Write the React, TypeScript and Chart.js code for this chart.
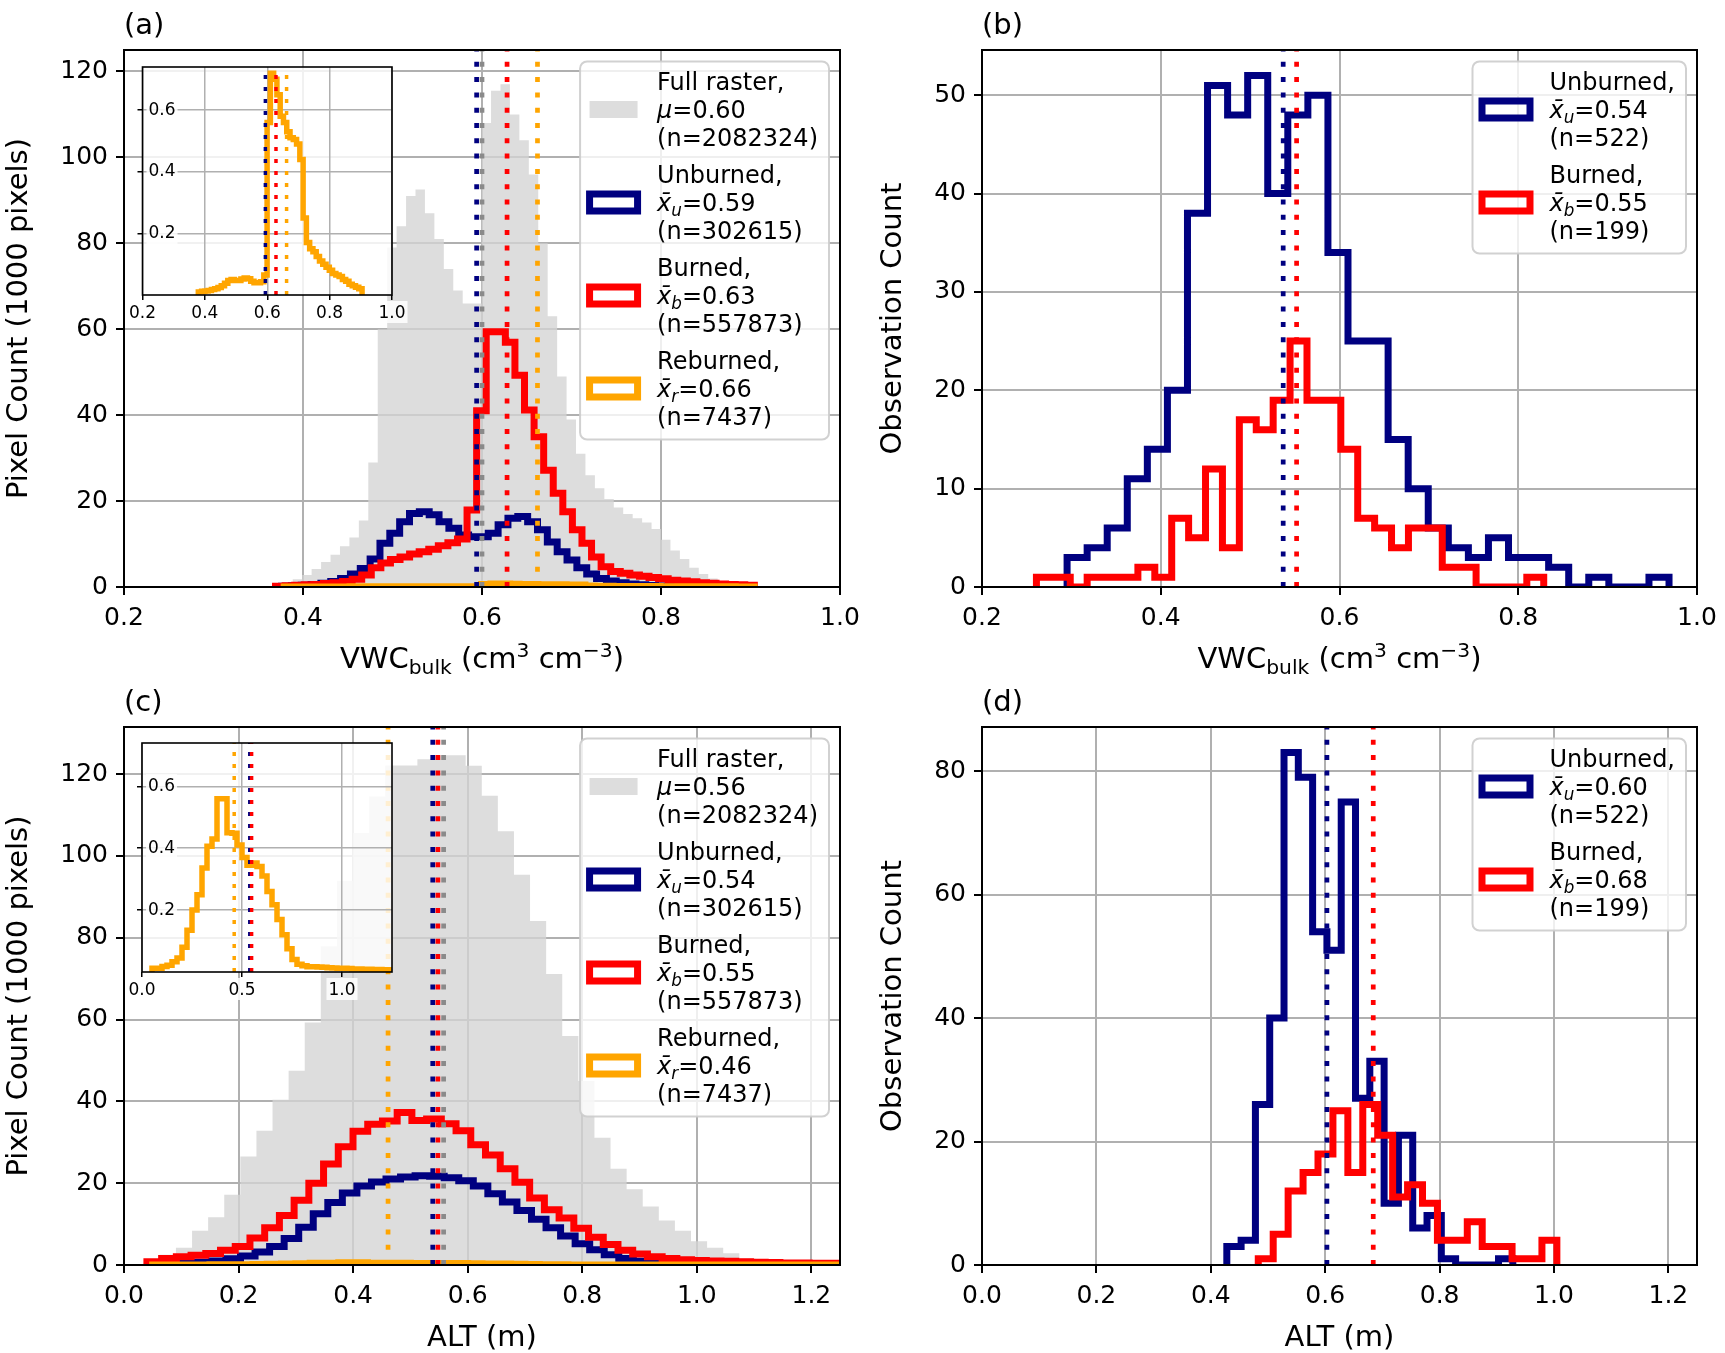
import React, { useEffect, useRef } from "react";
import { Chart, registerables } from "chart.js";

Chart.register(...registerables);

const FIG_W = 1725;
const FIG_H = 1353;
const FONT = '"DejaVu Sans", "Liberation Sans", Arial, sans-serif';
Chart.defaults.font.family = FONT;

const NAVY = "#000080";
const RED = "#ff0000";
const ORANGE = "#ffa500";
const GRAY_FILL = "rgba(211,211,211,0.78)";
const GRAY_MEAN = "#8a8a8a";
const GRID = "#b0b0b0";
const SERIES_COLORS = [GRAY_FILL, NAVY, RED, ORANGE];

// ================= DATA =================
// (a) VWC_bulk pixel histograms, thousands of pixels per bin
const vwcFullStart = 0.378;
const vwcFullWidth = 0.01055;
const vwcFull = [1.0, 1.8, 2.8, 4.2, 5.8, 7.5, 9.5, 11.5, 15.5, 29, 60, 79, 84, 91, 92.5, 87, 81, 74, 69, 66, 66, 108, 115.5, 117, 110, 104, 96, 80, 63, 49, 39, 31, 26, 23, 20.5, 18.5, 17, 16, 15, 13.5, 11, 8.5, 6.5, 4.5, 3, 2, 1.4, 1, 0.6];

const vwcUnburnedStart = 0.376;
const vwcUnburnedWidth = 0.011;
const vwcUnburned = [0.2, 0.3, 0.4, 0.6, 0.9, 1.3, 2.0, 3.0, 4.3, 6.5, 10.2, 12.5, 15.2, 17.1, 17.5, 16.8, 15.2, 13.7, 12.1, 11.7, 11.7, 12.5, 14.5, 16.0, 16.4, 15.2, 13.3, 10.5, 8.2, 6.3, 4.5, 3.0, 2.0, 1.4, 1.0, 0.7, 0.5, 0.35, 0.25, 0.15, 0.1];

const vwcBurnedStart = 0.3693;
const vwcBurnedWidth = 0.0107;
const vwcBurned = [0.2, 0.3, 0.4, 0.5, 0.6, 0.8, 1.0, 1.3, 1.8, 2.8, 4.5, 5.6, 6.4, 7.0, 7.7, 8.2, 8.8, 9.6, 10.3, 11.2, 17.9, 41, 59.4, 59.4, 57, 49.3, 41.2, 35, 27.2, 21.8, 17.5, 13.3, 10.2, 7, 4.7, 3.6, 3.2, 2.8, 2.5, 2.2, 1.9, 1.6, 1.4, 1.2, 1.0, 0.9, 0.7, 0.6, 0.5, 0.4];

const vwcReburnedStart = 0.379;
const vwcReburnedWidth = 0.0105;
const vwcReburned = [0.01, 0.012, 0.013, 0.015, 0.018, 0.02, 0.024, 0.03, 0.038, 0.047, 0.05, 0.047, 0.047, 0.052, 0.055, 0.053, 0.045, 0.04, 0.04, 0.043, 0.065, 0.56, 0.72, 0.7, 0.65, 0.58, 0.56, 0.53, 0.51, 0.505, 0.49, 0.44, 0.25, 0.17, 0.15, 0.14, 0.125, 0.11, 0.1, 0.09, 0.08, 0.07, 0.065, 0.06, 0.05, 0.045, 0.035, 0.03, 0.025, 0.02];

// means: full raster, unburned, burned, reburned
const vwcMeans = [0.6, 0.594, 0.628, 0.662];

// (b) VWC_bulk observation counts
const obsVwcUnburnedStart = 0.2952;
const obsVwcUnburnedWidth = 0.02245;
const obsVwcUnburned = [3, 4, 6, 11, 14, 20, 38, 51, 48, 52, 40, 48, 50, 34, 25, 25, 15, 10, 6, 4, 3, 5, 3, 3, 2, 0, 1, 0, 0, 1];
const obsVwcBurnedStart = 0.2609;
const obsVwcBurnedWidth = 0.01892;
const obsVwcBurned = [1, 1, 0, 1, 1, 1, 2, 1, 7, 5, 12, 4, 17, 16, 19, 25, 19, 19, 14, 7, 6, 4, 6, 6, 2, 2, 0, 0, 0, 1];
const obsVwcMeans = [0.537, 0.552];

// (c) ALT pixel histograms, thousands of pixels per bin
const altFullStart = 0.0345;
const altFullWidth = 0.0281;
const altFull = [0.4, 2.5, 4.2, 8.4, 11.7, 17.2, 26.5, 32.8, 40.4, 47.5, 59.3, 77.9, 93.9, 105.6, 114.5, 122.1, 122.1, 123.6, 124.6, 124.6, 122, 114.7, 106, 95.4, 84.1, 71.1, 56, 45, 31.1, 23.5, 18.5, 14.3, 10.9, 8.4, 5.8, 4.2, 2.9, 1.6, 1.2, 1.0, 0.8, 0.6, 0.5, 0.4, 0.3, 0.3];

const altUnburnedStart = 0.051;
const altUnburnedWidth = 0.0254;
const altUnburned = [0.3, 0.4, 0.5, 0.7, 1.0, 1.5, 2.2, 3.2, 4.5, 6.5, 9.2, 12.5, 15.3, 17.6, 19.3, 20.3, 21.0, 21.5, 21.8, 21.7, 21.3, 20.6, 19.3, 17.4, 15.4, 13.3, 11.2, 9.1, 7.1, 5.2, 3.7, 2.5, 1.6, 0.9, 0.5, 0.3, 0.2];

const altBurnedStart = 0.04;
const altBurnedWidth = 0.0257;
const altBurned = [0.8, 1.6, 2.0, 2.4, 2.8, 3.6, 4.5, 6.6, 9.1, 12.1, 15.8, 20.0, 24.7, 28.9, 32.7, 34.4, 35.2, 37.3, 35.3, 35.7, 34.5, 32.8, 29.4, 26.9, 23.5, 20.2, 16.4, 13.5, 11.5, 9.0, 6.8, 5.0, 3.6, 2.7, 2.0, 1.6, 1.3, 1.1, 1.0, 0.9, 0.8, 0.7, 0.6, 0.5, 0.5, 0.4, 0.4, 0.4];

const altReburnedStart = 0.05;
const altReburnedWidth = 0.025;
const altReburned = [0.012, 0.012, 0.018, 0.022, 0.033, 0.045, 0.08, 0.135, 0.2, 0.25, 0.336, 0.406, 0.43, 0.56, 0.56, 0.45, 0.448, 0.41, 0.37, 0.345, 0.352, 0.341, 0.31, 0.26, 0.217, 0.17, 0.12, 0.075, 0.04, 0.025, 0.02, 0.017, 0.017, 0.016, 0.015, 0.014, 0.013, 0.012, 0.012, 0.011, 0.01, 0.01, 0.009, 0.009, 0.008, 0.008, 0.007, 0.007];

const altMeans = [0.558, 0.539, 0.548, 0.461];

// (d) ALT observation counts
const obsAltUnburnedStart = 0.428;
const obsAltUnburnedWidth = 0.025;
const obsAltUnburned = [3, 4, 26, 40, 83, 79, 54, 51, 75, 27, 33, 10, 21, 6, 8, 1, 0, 0, 0, 1];
const obsAltBurnedStart = 0.483;
const obsAltBurnedWidth = 0.0261;
const obsAltBurned = [1, 5, 12, 15, 18, 25, 15, 26, 21, 11, 13, 10, 4, 4, 7, 3, 3, 1, 1, 4];
const obsAltMeans = [0.603, 0.684];

const pixelCounts = [2082324, 302615, 557873, 7437];
const obsCounts = [522, 199];
const seriesNames = ["Full raster,", "Unburned,", "Burned,", "Reburned,"];
const seriesSubscripts = ["", "u", "b", "r"];

// tick values
const vwcTicks = [0.2, 0.4, 0.6, 0.8, 1.0];
const altTicks = [0, 0.2, 0.4, 0.6, 0.8, 1.0, 1.2];
const altInsetTicks = [0, 0.5, 1.0];
const pixelTicks = [0, 20, 40, 60, 80, 100, 120];
const obsTicksB = [0, 10, 20, 30, 40, 50];
const obsTicksD = [0, 20, 40, 60, 80];
const insetYTicks = [0.2, 0.4, 0.6];

// ================= LAYOUT =================
type Area = { l: number; t: number; r: number; b: number };
const areaA: Area = { l: 124, t: 50, r: 840, b: 587 };
const areaB: Area = { l: 982, t: 50, r: 1697, b: 587 };
const areaC: Area = { l: 124, t: 727, r: 840, b: 1265 };
const areaD: Area = { l: 982, t: 727, r: 1697, b: 1265 };
const insetA: Area = { l: 142.5, t: 67, r: 392, b: 295 };
const insetC: Area = { l: 142, t: 743, r: 392, b: 972 };

const TICK_FS = 25;
const LABEL_FS = 29;
const LEGEND_FS = 24;
const INSET_FS = 17;

type Part = { t: string; s?: number; it?: boolean; dy?: number };

function partFont(p: Part, size: number) {
  return `${p.it ? "italic " : ""}${(size * (p.s ?? 1)).toFixed(2)}px ${FONT}`;
}
function richWidth(ctx: any, parts: Part[], size: number) {
  let w = 0;
  for (const p of parts) {
    ctx.font = partFont(p, size);
    w += ctx.measureText(p.t).width;
  }
  return w;
}
function drawRich(ctx: any, x: number, baseline: number, parts: Part[], size: number, align: string) {
  const w = richWidth(ctx, parts, size);
  let cx = align === "center" ? x - w / 2 : x;
  ctx.textAlign = "left";
  ctx.textBaseline = "alphabetic";
  ctx.fillStyle = "#000";
  for (const p of parts) {
    ctx.font = partFont(p, size);
    ctx.fillText(p.t, cx, baseline + (p.dy ?? 0) * size);
    cx += ctx.measureText(p.t).width;
  }
}

function meanParts(si: number, mean: number): Part[] {
  const txt = "=" + mean.toFixed(2);
  if (si === 0) return [{ t: "\u03bc", it: true }, { t: txt }];
  return [{ t: "x\u0304", it: true }, { t: seriesSubscripts[si], it: true, s: 0.7, dy: 0.2 }, { t: txt }];
}

function roundRectPath(ctx: any, x: number, y: number, w: number, h: number, r: number) {
  ctx.beginPath();
  ctx.moveTo(x + r, y);
  ctx.arcTo(x + w, y, x + w, y + h, r);
  ctx.arcTo(x + w, y + h, x, y + h, r);
  ctx.arcTo(x, y + h, x, y, r);
  ctx.arcTo(x, y, x + w, y, r);
  ctx.closePath();
}

function drawLegend(ctx: any, area: any, idxs: number[], means: number[], counts: number[]) {
  const fs = LEGEND_FS;
  const lh = 28;
  const pitch = 93;
  const entries = idxs.map((si, k) => ({
    color: SERIES_COLORS[si],
    filled: si === 0,
    lines: [[{ t: seriesNames[si] }], meanParts(si, means[k]), [{ t: `(n=${counts[k]})` }]] as Part[][],
  }));
  let maxW = 0;
  for (const e of entries) for (const l of e.lines) maxW = Math.max(maxW, richWidth(ctx, l, fs));
  const boxW = 77 + maxW + 11;
  const left = area.right - 11 - boxW;
  const top = area.top + 11.5;
  const firstC = top + 20;
  const lastC = firstC + (entries.length - 1) * pitch + 2 * lh;
  const boxH = lastC + 23 - top;
  roundRectPath(ctx, left, top, boxW, boxH, 7);
  ctx.fillStyle = "rgba(255,255,255,0.8)";
  ctx.fill();
  ctx.lineWidth = 2;
  ctx.strokeStyle = "rgba(204,204,204,0.9)";
  ctx.stroke();
  entries.forEach((e, i) => {
    const c0 = firstC + i * pitch;
    const mid = c0 + lh;
    const hx = left + 9.5;
    const hw = 48;
    const hh = 17;
    if (e.filled) {
      ctx.fillStyle = e.color;
      ctx.fillRect(hx, mid - hh / 2, hw, hh);
    } else {
      ctx.strokeStyle = e.color;
      ctx.lineWidth = 7;
      ctx.lineJoin = "miter";
      ctx.strokeRect(hx, mid - hh / 2, hw, hh);
    }
    e.lines.forEach((l, j) => drawRich(ctx, left + 77, c0 + j * lh + 0.36 * fs, l, fs, "left"));
  });
}

// ================= DATASET HELPERS =================
function stepPoints(start: number, width: number, values: number[]) {
  const pts = [{ x: start, y: 0 }];
  values.forEach((v, i) => pts.push({ x: start + i * width, y: v }));
  pts.push({ x: start + values.length * width, y: 0 });
  return pts;
}
function fillDs(pts: any[], color: string, order: number) {
  return { data: pts, borderWidth: 0, borderColor: "rgba(0,0,0,0)", backgroundColor: color, fill: "origin", stepped: "before", pointRadius: 0, order, clip: 0 };
}
function stepDs(pts: any[], color: string, lw: number, order: number) {
  return { data: pts, borderColor: color, borderWidth: lw, fill: false, stepped: "before", pointRadius: 0, borderJoinStyle: "miter", borderCapStyle: "butt", order, clip: 0 };
}
function vlineDs(x: number, yMax: number, color: string, lw: number, dash: number[], order: number) {
  return { data: [{ x, y: 0 }, { x, y: yMax }], borderColor: color, borderWidth: lw, borderDash: dash, borderCapStyle: "butt", fill: false, pointRadius: 0, order, clip: 0 };
}

function axis(min: number, max: number, ticks: number[], dir: string, inset: boolean, decimals: number, size: number) {
  return {
    type: "linear",
    min,
    max,
    afterBuildTicks: (s: any) => {
      s.ticks = ticks.map((v) => ({ value: v }));
    },
    afterFit: (s: any) => {
      if (dir === "x") s.height = size;
      else s.width = size;
    },
    ticks: {
      autoSkip: false,
      maxRotation: 0,
      minRotation: 0,
      color: "#000",
      font: { family: FONT, size: inset ? INSET_FS : TICK_FS },
      padding: inset ? (dir === "y" ? 6 : 3) : 8,
      mirror: inset && dir === "y",
      showLabelBackdrop: inset,
      backdropColor: "rgba(255,255,255,0.85)",
      backdropPadding: 2,
      callback: (v: any) => Number(v).toFixed(decimals),
    },
    grid: {
      color: GRID,
      lineWidth: inset ? 1.5 : 2,
      drawTicks: true,
      tickLength: inset ? 5 : 8,
      tickColor: "#000",
      tickWidth: inset ? 1.5 : 2,
    },
    border: { display: false },
  };
}

type PanelCfg = {
  area: Area;
  inset: boolean;
  xMin: number;
  xMax: number;
  xTicks: number[];
  xDec: number;
  yMax: number;
  yTicks: number[];
  yDec: number;
  datasets: any[];
  title?: string;
  xLabel?: Part[];
  yLabel?: string;
  yLabelX?: number;
  legend?: { idxs: number[]; means: number[]; counts: number[] };
};

function makeChart(canvas: HTMLCanvasElement, cfg: PanelCfg) {
  const xh = cfg.inset ? 28 : 50;
  const yw = cfg.inset ? 8 : 80;
  const a = cfg.area;
  const plugin = {
    id: "decor",
    beforeDraw(chart: any) {
      if (!cfg.inset) return;
      const ca = chart.chartArea;
      const ctx = chart.ctx;
      ctx.save();
      ctx.fillStyle = "rgba(255,255,255,0.82)";
      ctx.fillRect(ca.left, ca.top, ca.right - ca.left, ca.bottom - ca.top);
      ctx.restore();
    },
    afterDraw(chart: any) {
      const ca = chart.chartArea;
      const ctx = chart.ctx;
      ctx.save();
      ctx.strokeStyle = "#000";
      ctx.lineWidth = cfg.inset ? 1.6 : 2;
      ctx.setLineDash([]);
      ctx.strokeRect(ca.left, ca.top, ca.right - ca.left, ca.bottom - ca.top);
      if (!cfg.inset) {
        ctx.fillStyle = "#000";
        ctx.font = `${LABEL_FS}px ${FONT}`;
        ctx.textAlign = "left";
        ctx.textBaseline = "alphabetic";
        if (cfg.title) ctx.fillText(cfg.title, ca.left, ca.top - 16);
        if (cfg.xLabel) drawRich(ctx, (ca.left + ca.right) / 2, ca.bottom + 81, cfg.xLabel, LABEL_FS, "center");
        if (cfg.yLabel) {
          ctx.save();
          ctx.translate(cfg.yLabelX ?? 19, (ca.top + ca.bottom) / 2);
          ctx.rotate(-Math.PI / 2);
          ctx.font = `${LABEL_FS}px ${FONT}`;
          ctx.textAlign = "center";
          ctx.textBaseline = "middle";
          ctx.fillStyle = "#000";
          ctx.fillText(cfg.yLabel, 0, 0);
          ctx.restore();
        }
        if (cfg.legend) drawLegend(ctx, ca, cfg.legend.idxs, cfg.legend.means, cfg.legend.counts);
      }
      ctx.restore();
    },
  };
  return new Chart(canvas, {
    type: "line",
    data: { datasets: cfg.datasets },
    options: {
      responsive: false,
      animation: false,
      devicePixelRatio: 1,
      events: [],
      layout: { padding: { left: a.l - yw, top: a.t, right: FIG_W - a.r, bottom: FIG_H - a.b - xh } },
      plugins: { legend: { display: false }, tooltip: { enabled: false }, title: { display: false } },
      scales: {
        x: axis(cfg.xMin, cfg.xMax, cfg.xTicks, "x", cfg.inset, cfg.xDec, xh),
        y: axis(0, cfg.yMax, cfg.yTicks, "y", cfg.inset, cfg.yDec, yw),
      },
    } as any,
    plugins: [plugin],
  } as any);
}

// ================= PANELS =================
const MAIN_LW = 7;
const DOT = [5, 10.3];
const DOT_LW = 4.7;
const INSET_DOT = [4, 8];
const INSET_DOT_LW = 3.5;

const vwcLabel: Part[] = [
  { t: "VWC" },
  { t: "bulk", s: 0.7, dy: 0.22 },
  { t: " (cm" },
  { t: "3", s: 0.7, dy: -0.38 },
  { t: " cm" },
  { t: "\u22123", s: 0.7, dy: -0.38 },
  { t: ")" },
];
const altLabel: Part[] = [{ t: "ALT (m)" }];

function panelA(): PanelCfg {
  const yMax = 125;
  return {
    area: areaA, inset: false, xMin: 0.2, xMax: 1.0, xTicks: vwcTicks, xDec: 1, yMax, yTicks: pixelTicks, yDec: 0,
    title: "(a)", xLabel: vwcLabel, yLabel: "Pixel Count (1000 pixels)", yLabelX: 19,
    legend: { idxs: [0, 1, 2, 3], means: vwcMeans, counts: pixelCounts },
    datasets: [
      fillDs(stepPoints(vwcFullStart, vwcFullWidth, vwcFull), GRAY_FILL, 20),
      stepDs(stepPoints(vwcUnburnedStart, vwcUnburnedWidth, vwcUnburned), NAVY, MAIN_LW, 19),
      stepDs(stepPoints(vwcBurnedStart, vwcBurnedWidth, vwcBurned), RED, MAIN_LW, 18),
      stepDs(stepPoints(vwcReburnedStart, vwcReburnedWidth, vwcReburned), ORANGE, MAIN_LW, 17),
      vlineDs(vwcMeans[0], yMax, GRAY_MEAN, DOT_LW, DOT, 4),
      vlineDs(vwcMeans[1], yMax, NAVY, DOT_LW, DOT, 3),
      vlineDs(vwcMeans[2], yMax, RED, DOT_LW, DOT, 2),
      vlineDs(vwcMeans[3], yMax, ORANGE, DOT_LW, DOT, 1),
    ],
  };
}
function panelAInset(): PanelCfg {
  const yMax = 0.74;
  return {
    area: insetA, inset: true, xMin: 0.2, xMax: 1.0, xTicks: vwcTicks, xDec: 1, yMax, yTicks: insetYTicks, yDec: 1,
    datasets: [
      stepDs(stepPoints(vwcReburnedStart, vwcReburnedWidth, vwcReburned), ORANGE, 5.5, 10),
      vlineDs(vwcMeans[1], yMax, NAVY, INSET_DOT_LW, INSET_DOT, 3),
      vlineDs(vwcMeans[2], yMax, RED, INSET_DOT_LW, INSET_DOT, 2),
      vlineDs(vwcMeans[3], yMax, ORANGE, INSET_DOT_LW, INSET_DOT, 1),
    ],
  };
}
function panelB(): PanelCfg {
  const yMax = 54.6;
  return {
    area: areaB, inset: false, xMin: 0.2, xMax: 1.0, xTicks: vwcTicks, xDec: 1, yMax, yTicks: obsTicksB, yDec: 0,
    title: "(b)", xLabel: vwcLabel, yLabel: "Observation Count", yLabelX: 893,
    legend: { idxs: [1, 2], means: obsVwcMeans, counts: obsCounts },
    datasets: [
      stepDs(stepPoints(obsVwcUnburnedStart, obsVwcUnburnedWidth, obsVwcUnburned), NAVY, MAIN_LW, 19),
      stepDs(stepPoints(obsVwcBurnedStart, obsVwcBurnedWidth, obsVwcBurned), RED, MAIN_LW, 18),
      vlineDs(obsVwcMeans[0], yMax, NAVY, DOT_LW, DOT, 2),
      vlineDs(obsVwcMeans[1], yMax, RED, DOT_LW, DOT, 1),
    ],
  };
}
function panelC(): PanelCfg {
  const yMax = 131.5;
  return {
    area: areaC, inset: false, xMin: 0, xMax: 1.25, xTicks: altTicks, xDec: 1, yMax, yTicks: pixelTicks, yDec: 0,
    title: "(c)", xLabel: altLabel, yLabel: "Pixel Count (1000 pixels)", yLabelX: 19,
    legend: { idxs: [0, 1, 2, 3], means: altMeans, counts: pixelCounts },
    datasets: [
      fillDs(stepPoints(altFullStart, altFullWidth, altFull), GRAY_FILL, 20),
      stepDs(stepPoints(altUnburnedStart, altUnburnedWidth, altUnburned), NAVY, MAIN_LW, 19),
      stepDs(stepPoints(altBurnedStart, altBurnedWidth, altBurned), RED, MAIN_LW, 18),
      stepDs(stepPoints(altReburnedStart, altReburnedWidth, altReburned), ORANGE, MAIN_LW, 17),
      vlineDs(altMeans[3], yMax, ORANGE, DOT_LW, DOT, 4),
      vlineDs(altMeans[1], yMax, NAVY, DOT_LW, DOT, 3),
      vlineDs(altMeans[2], yMax, RED, DOT_LW, DOT, 2),
      vlineDs(altMeans[0], yMax, GRAY_MEAN, DOT_LW, DOT, 1),
    ],
  };
}
function panelCInset(): PanelCfg {
  const yMax = 0.74;
  return {
    area: insetC, inset: true, xMin: 0, xMax: 1.25, xTicks: altInsetTicks, xDec: 1, yMax, yTicks: insetYTicks, yDec: 1,
    datasets: [
      stepDs(stepPoints(altReburnedStart, altReburnedWidth, altReburned), ORANGE, 5.5, 10),
      vlineDs(altMeans[3], yMax, ORANGE, INSET_DOT_LW, INSET_DOT, 3),
      vlineDs(altMeans[1], yMax, NAVY, INSET_DOT_LW, INSET_DOT, 2),
      vlineDs(altMeans[2], yMax, RED, INSET_DOT_LW, INSET_DOT, 1),
    ],
  };
}
function panelD(): PanelCfg {
  const yMax = 87.15;
  return {
    area: areaD, inset: false, xMin: 0, xMax: 1.25, xTicks: altTicks, xDec: 1, yMax, yTicks: obsTicksD, yDec: 0,
    title: "(d)", xLabel: altLabel, yLabel: "Observation Count", yLabelX: 893,
    legend: { idxs: [1, 2], means: obsAltMeans, counts: obsCounts },
    datasets: [
      stepDs(stepPoints(obsAltUnburnedStart, obsAltUnburnedWidth, obsAltUnburned), NAVY, MAIN_LW, 19),
      stepDs(stepPoints(obsAltBurnedStart, obsAltBurnedWidth, obsAltBurned), RED, MAIN_LW, 18),
      vlineDs(obsAltMeans[0], yMax, NAVY, DOT_LW, DOT, 2),
      vlineDs(obsAltMeans[1], yMax, RED, DOT_LW, DOT, 1),
    ],
  };
}

function Layer({ build }: { build: () => PanelCfg }) {
  const ref = useRef<HTMLCanvasElement>(null);
  useEffect(() => {
    const chart = makeChart(ref.current as HTMLCanvasElement, build());
    return () => chart.destroy();
  }, []);
  return (
    <canvas
      ref={ref}
      width={FIG_W}
      height={FIG_H}
      style={{ position: "absolute", left: 0, top: 0, width: FIG_W, height: FIG_H }}
    />
  );
}

export default function App() {
  return (
    <div style={{ position: "absolute", left: 0, top: 0, width: FIG_W, height: FIG_H, background: "#fff", overflow: "hidden" }}>
      <Layer build={panelA} />
      <Layer build={panelAInset} />
      <Layer build={panelB} />
      <Layer build={panelC} />
      <Layer build={panelCInset} />
      <Layer build={panelD} />
    </div>
  );
}
